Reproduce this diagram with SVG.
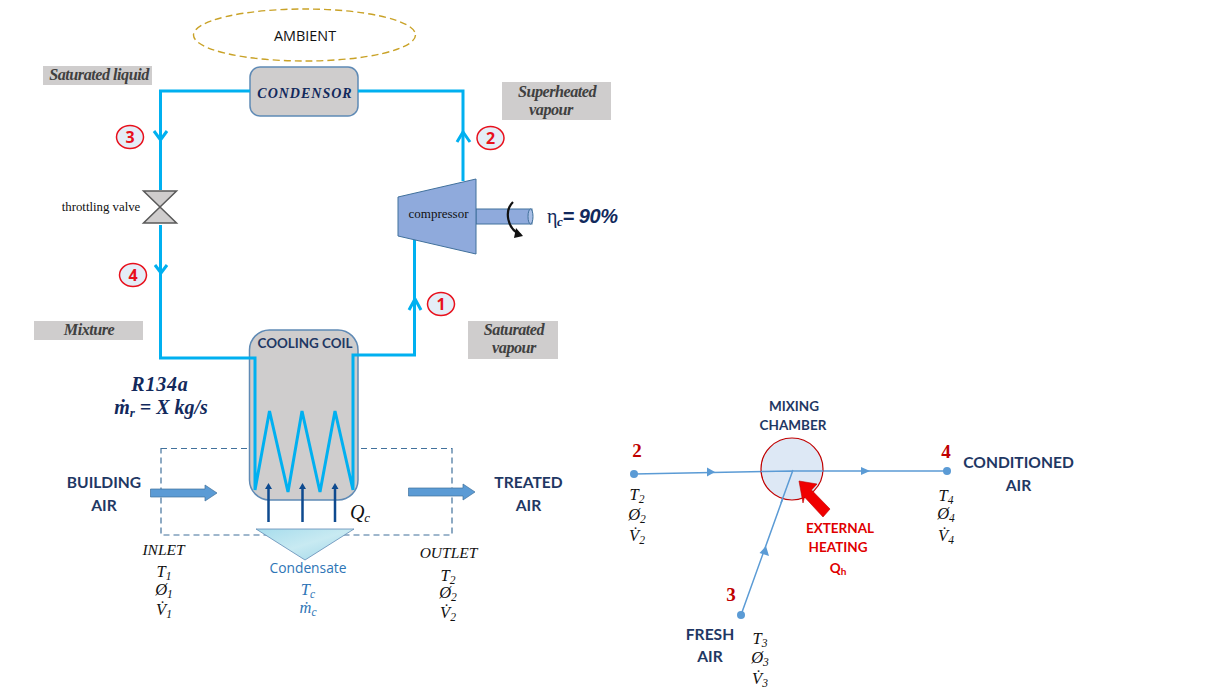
<svg xmlns="http://www.w3.org/2000/svg" width="1213" height="699" viewBox="0 0 1213 699">
<style>
text{text-anchor:middle}
.pipe{fill:none;stroke:#00b0f0;stroke-width:3}
.lab{font:italic bold 16.2px "Liberation Serif",serif;fill:#404040;letter-spacing:-.5px}
.g{fill:#cfcdcd}
.badge{fill:#e4edf7;stroke:#e8101c;stroke-width:1.5}
.bn{font:bold 16px "Open Sans",sans-serif;fill:#e8101c}
.big{font:bold 15.600px "Lato",sans-serif;fill:#1f3864}
.mid{font:bold 13.5px "Lato",sans-serif;fill:#1f3864}
.red{font:bold 13.5px "Lato",sans-serif;fill:#e00000}
.m{font:italic 16.5px "Liberation Serif",serif;fill:#111}
.mb{font:italic 16.5px "Liberation Serif",serif;fill:#2e75b6}
.s{font-size:11.5px}
.air{fill:#5b9bd5;stroke:#41719c;stroke-width:.7}
.up{stroke:#0e4a8f;stroke-width:2.5;fill:none}
.dnum{font:bold 19px "Liberation Serif",serif;fill:#c00000}
.flow{stroke:#5b9bd5;stroke-width:1.5;fill:none}
.tri{fill:#5b9bd5}
</style>
<defs>
<linearGradient id="w" x1="0" y1="0" x2="1" y2="1"><stop offset="0" stop-color="#a6dcec"/><stop offset=".5" stop-color="#c8eaf2"/><stop offset="1" stop-color="#9cd5e8"/></linearGradient>
</defs>
<g id="system-boundary"><rect x="161" y="448.500" width="291" height="86.500" fill="none" stroke="#41719c" stroke-width="1.200" stroke-dasharray="6 4"/></g>
<g id="ambient"><ellipse cx="304.500" cy="35" rx="111" ry="26" fill="#fff" stroke="#c9a227" stroke-width="1.400" stroke-dasharray="7 4"/><text x="305" y="41" style="font:14.4px 'Open Sans',sans-serif;fill:#111">AMBIENT</text></g>
<g id="condensor"><rect x="250" y="67" width="108" height="49" rx="10" fill="#cfcdcd" stroke="#5f8ab5" stroke-width="1.500"/><text x="305" y="98" style="font:italic bold 14px 'Liberation Serif',serif;fill:#12295c;letter-spacing:1px">CONDENSOR</text></g>
<g id="cooling-coil"><rect x="249.500" y="330" width="108.500" height="170" rx="20" fill="#cfcdcd" stroke="#5f8ab5" stroke-width="1.500"/><text x="305" y="348" style="font:bold 13.4px 'Lato',sans-serif;fill:#1f3864">COOLING COIL</text></g>
<g id="connectors">
<path class="pipe" d="M250 91H160.500V190M160.500 225V358H255V490L269.500 411L288 492L302 411L320 492L335 411L353 490V355H414.500V238"/>
<path class="pipe" d="M358 91H463V181"/>
<path class="pipe" d="M154 131L160.500 140L167 131M155 265L161 273L167 265M409 310L415 299L421 310M457 142L463 132L470 142"/>
<path class="up" d="M268.500 522V486M302.500 522V486M335 522V486"/>
<path d="M265 489L268.500 483L272 489ZM299 489L302.500 483L306 489ZM331.500 489L335 483L338.500 489Z" fill="#0e4a8f"/>
<path class="air" d="M150.500 489H205V485L217 493L205 501V497H150.500Z"/>
<path class="air" d="M408.500 488H463V484L475 492L463 500V496H408.500Z"/>
<path class="flow" d="M634 474L792 471L947 471M741 615L793 470"/>
</g>
<g id="valve"><path d="M143.500 191H176.500L143.500 223H176.500Z" fill="#cfcdcd" stroke="#595959" stroke-width="1.500"/><text x="101" y="211" style="font:12.800px 'Liberation Serif',serif;fill:#111">throttling valve</text></g>
<g id="compressor">
<rect x="476" y="209" width="56" height="15" fill="#8faadc" stroke="#41719c"/><ellipse cx="530.500" cy="216.500" rx="2.500" ry="7.500" fill="#a9bfe6" stroke="#41719c"/>
<path d="M398 197L476 179V254L398 236Z" fill="#8faadc" stroke="#41719c"/>
<path d="M513 202C504 211 507 229 521 235" fill="none" stroke="#111" stroke-width="2.200"/><path d="M516 228L523 236L514 238Z" fill="#111"/>
<text x="438.500" y="218" style="font:13px 'Liberation Serif',serif;fill:#111">compressor</text>
<text x="547" y="223" style="text-anchor:start;font:italic bold 20px 'Liberation Sans',sans-serif;fill:#12295c;letter-spacing:-.4px"><tspan style="font:20px 'Liberation Serif',serif">η</tspan><tspan dy="3" style="font:italic bold 13px 'Liberation Serif',serif">c</tspan><tspan dy="-3">= 90%</tspan></text>
</g>
<g id="labels">
<rect class="g" x="43" y="66" width="109" height="19"/><text class="lab" x="99" y="80">Saturated liquid</text>
<rect class="g" x="502" y="82" width="109" height="38"/><text class="lab" x="557" y="97">Superheated</text><text class="lab" x="551" y="115">vapour</text>
<rect class="g" x="468" y="321" width="90" height="38"/><text class="lab" x="514" y="335">Saturated</text><text class="lab" x="514" y="353">vapour</text>
<rect class="g" x="34" y="321" width="109" height="19"/><text class="lab" x="89" y="335">Mixture</text>
<g id="state-1"><ellipse class="badge" cx="441" cy="304" rx="13.500" ry="11.500"/><text class="bn" x="441" y="310">1</text></g>
<g id="state-2"><ellipse class="badge" cx="490.500" cy="138" rx="13.500" ry="11.500"/><text class="bn" x="490.500" y="144">2</text></g>
<g id="state-3"><ellipse class="badge" cx="130" cy="137" rx="13.500" ry="11.500"/><text class="bn" x="130" y="143">3</text></g>
<g id="state-4"><ellipse class="badge" cx="133" cy="275" rx="13.500" ry="11.500"/><text class="bn" x="133" y="281">4</text></g>
<text x="160" y="391" style="font:italic bold 20px 'Liberation Serif',serif;fill:#12295c;letter-spacing:.8px">R134a</text>
<text x="161" y="414" style="font:italic bold 20px 'Liberation Serif',serif;fill:#12295c">ṁ<tspan dy="3" style="font-size:13px">r</tspan><tspan dy="-3"> = X kg/s</tspan></text>
<text class="big" x="104" y="488">BUILDING</text><text class="big" x="104" y="511">AIR</text>
<text class="big" x="528.500" y="488">TREATED</text><text class="big" x="528.500" y="511">AIR</text>
<text class="m" x="360" y="519" style="font-size:20px">Q<tspan dy="3" style="font-size:13px">c</tspan></text>
</g>
<g id="condensate"><path d="M256 529H354L305 560Z" fill="url(#w)" stroke="#5f8ab5" stroke-width=".8"/>
<text x="308" y="573" style="font:13.8px 'Open Sans',sans-serif;fill:#2e75b6">Condensate</text>
<text class="mb" x="308" y="595">T<tspan class="s" dy="3">c</tspan></text><text class="mb" x="308" y="613">ṁ<tspan class="s" dy="3">c</tspan></text></g>
<g id="inlet"><text class="m" x="163.500" y="555" style="font-size:15.5px">INLET</text><text class="m" x="164" y="577">T<tspan class="s" dy="3">1</tspan></text><text class="m" x="164" y="595">Ø<tspan class="s" dy="3">1</tspan></text><text class="m" x="164" y="615">V̇<tspan class="s" dy="3">1</tspan></text></g>
<g id="outlet"><text class="m" x="448.500" y="558" style="font-size:15.5px">OUTLET</text><text class="m" x="448" y="581">T<tspan class="s" dy="3">2</tspan></text><text class="m" x="448" y="598">Ø<tspan class="s" dy="3">2</tspan></text><text class="m" x="448" y="618">V̇<tspan class="s" dy="3">2</tspan></text></g>
<g id="mixing-chamber">
<circle cx="792" cy="469" r="31" fill="#dde8f5" stroke="#c00000" stroke-width="1.200"/>
<path class="flow" d="M761 471.500L792 471L823 471M781 503L793 470"/>
<text class="mid" x="794" y="411">MIXING</text><text class="mid" x="793" y="430">CHAMBER</text>
</g>
<g id="flow-marks">
<path class="tri" d="M707 467.500L715 472L707 476.500ZM861 467L870 471L861 475ZM759.500 553L766 546L769 556Z"/>
<circle class="tri" cx="634" cy="474" r="4"/><circle class="tri" cx="947" cy="471" r="4"/><circle class="tri" cx="741" cy="615" r="4"/>
</g>
<g id="heating">
<path d="M799 481L817 484L811.500 490L830 509L823 517L804.500 497L803 503Z" fill="#f00000" stroke="#c00000" stroke-width=".6"/>
<text class="red" x="840" y="533">EXTERNAL</text><text class="red" x="838" y="552">HEATING</text><text class="red" x="838" y="573">Q<tspan dy="2" style="font-size:10px">h</tspan></text>
</g>
<g id="state-labels">
<text class="dnum" x="637" y="457">2</text><text class="dnum" x="731" y="601">3</text><text class="dnum" x="946" y="458">4</text>
<text class="big" x="710" y="640">FRESH</text><text class="big" x="710" y="662">AIR</text>
<text class="big" x="1018.500" y="468">CONDITIONED</text><text class="big" x="1018.500" y="491">AIR</text>
<text class="m" x="637" y="500">T<tspan class="s" dy="3">2</tspan></text><text class="m" x="637" y="520">Ø<tspan class="s" dy="3">2</tspan></text><text class="m" x="637" y="541">V̇<tspan class="s" dy="3">2</tspan></text>
<text class="m" x="760" y="644">T<tspan class="s" dy="3">3</tspan></text><text class="m" x="760" y="663">Ø<tspan class="s" dy="3">3</tspan></text><text class="m" x="760" y="684">V̇<tspan class="s" dy="3">3</tspan></text>
<text class="m" x="946" y="501">T<tspan class="s" dy="3">4</tspan></text><text class="m" x="946" y="519">Ø<tspan class="s" dy="3">4</tspan></text><text class="m" x="946" y="541">V̇<tspan class="s" dy="3">4</tspan></text>
</g>
</svg>
